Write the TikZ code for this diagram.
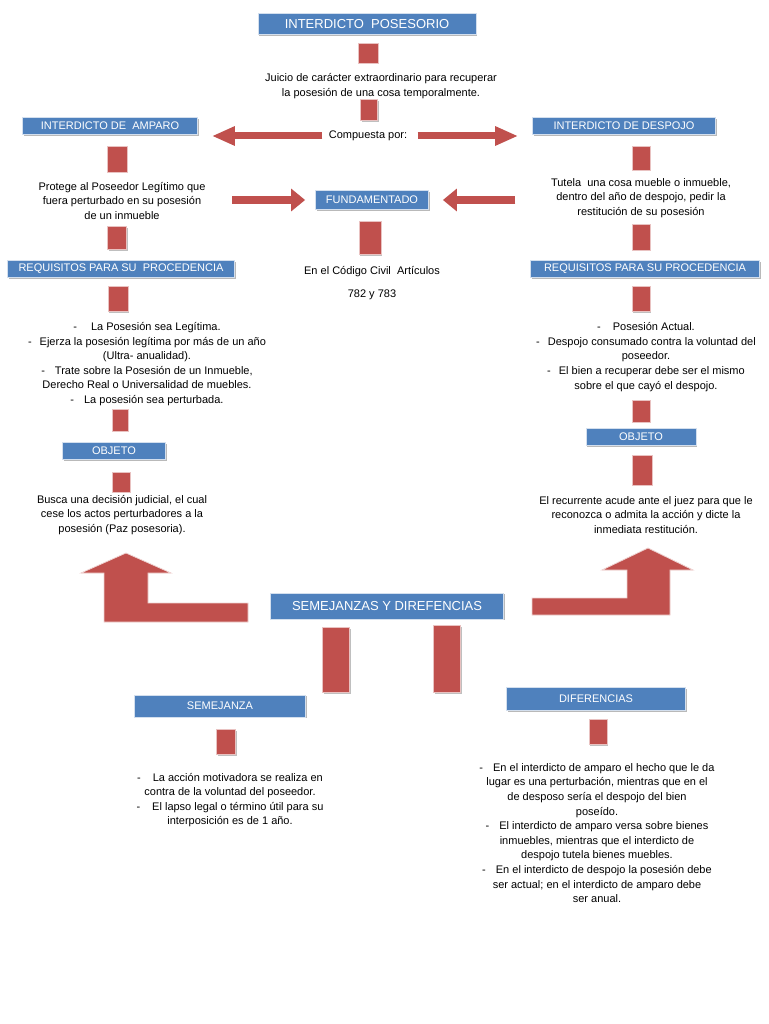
\documentclass[tikz,border=0pt]{standalone}
\usepackage{fontspec}
\setmainfont{Liberation Sans}
\usetikzlibrary{positioning}
\usetikzlibrary{arrows.meta}
\usetikzlibrary{shadows}

\definecolor{boxblue}{HTML}{4F81BD}
\definecolor{barred}{HTML}{C0504D}

\tikzset{x=1pt, y=-1pt,
  every node/.style={align=center,
    font=\fontsize{11}{14.6}\selectfont},
  title/.style={ % blue heading boxes
    rectangle, fill=boxblue, draw=white!75!boxblue, line width=0.8pt,
    text=white, inner sep=0pt, minimum height=17pt,
    font=\fontsize{11}{12}\selectfont,
    drop shadow={shadow xshift=1.4pt, shadow yshift=-1.4pt, opacity=0.55}},
  bigtitle/.style={title, font=\fontsize{13}{15}\selectfont},
  bar/.style={ % red blocks between the steps
    rectangle, fill=barred, draw=barred!35!white, line width=0.8pt,
    inner sep=0pt,
    drop shadow={shadow xshift=1.4pt, shadow yshift=-1.4pt, opacity=0.5}},
  flat/.style={ % red block arrows
    draw=barred, line width=7pt,
    -{Triangle[length=23pt,width=18pt]}},
  thick flat/.style={flat, line width=8pt,
    -{Triangle[length=14pt,width=22pt]}},
  bent/.style={fill=barred, draw=barred!25!white, line width=0.8pt}
}

\begin{document}
\begin{tikzpicture}
  \fill[white] (0,0) rectangle (768,1024);
  \useasboundingbox (0,0) rectangle (768,1024);

  % top
  \node[bigtitle, minimum width=218pt, minimum height=21pt] (posesorio) at (367,24) {INTERDICTO\ \ POSESORIO};
  \node[bar, minimum width=20pt, minimum height=20pt] (b1) at (368,53) {};
  \node (juicio) at (381,86) {Juicio de carácter extraordinario para recuperar\\
    la posesión de una cosa temporalmente.};
  \node[bar, minimum width=17pt, minimum height=21pt] (b2) at (369,110) {};
  \node (compuesta) at (368,136) {Compuesta por:};

  \node[title, minimum width=175pt] (amparo) at (110,126) {INTERDICTO DE\ \ AMPARO};
  \node[title, minimum width=183pt] (despojo) at (624,126) {INTERDICTO DE DESPOJO};

  \draw[flat, shorten <=3pt, shorten >=14pt] (compuesta) -- (compuesta -| amparo.east);
  \draw[flat, shorten <=7pt, shorten >=14pt] (compuesta) -- (compuesta -| despojo.west);

  % amparo side
  \node[bar, minimum width=20pt, minimum height=26pt] (b3) at (117,159) {};
  \node (amparotxt) at (122,201) {Protege al Poseedor Legítimo que\\
    fuera perturbado en su posesión\\
    de un inmueble};
  \node[bar, minimum width=19pt, minimum height=23pt] (b5) at (117,238) {};
  \node[title, minimum width=227pt] (reql) at (121,269) {REQUISITOS PARA SU\ \ PROCEDENCIA};
  \node[bar, minimum width=20pt, minimum height=25pt] (b8) at (118,299) {};
  \node (listl) at (147,364) {-\hspace{14pt}La Posesión sea Legítima.\\
    -\hspace{8pt}Ejerza la posesión legítima por más de un año\\
    (Ultra- anualidad).\\
    -\hspace{10pt}Trate sobre la Posesión de un Inmueble,\\
    Derecho Real o Universalidad de muebles.\\
    -\hspace{10pt}La posesión sea perturbada.};
  \node[bar, minimum width=16pt, minimum height=22pt] (b10) at (120,420) {};
  \node[title, minimum width=103pt] (objl) at (114,451) {OBJETO};
  \node[bar, minimum width=18pt, minimum height=20pt] (b12) at (121,482) {};
  \node (objltxt) at (122,515) {Busca una decisión judicial, el cual\\
    cese los actos perturbadores a la\\
    posesión (Paz posesoria).};

  % despojo side
  \node[bar, minimum width=18pt, minimum height=24pt] (b4) at (641,158) {};
  \node (despojotxt) at (641,198) {Tutela\ \ una cosa mueble o inmueble,\\
    dentro del año de despojo, pedir la\\
    restitución de su posesión};
  \node[bar, minimum width=18pt, minimum height=26pt] (b6) at (641,237) {};
  \node[title, minimum width=229pt] (reqr) at (645,269) {REQUISITOS PARA SU PROCEDENCIA};
  \node[bar, minimum width=18pt, minimum height=25pt] (b9) at (641,299) {};
  \node (listr) at (646,357) {-\hspace{12pt}Posesión Actual.\\
    -\hspace{8pt}Despojo consumado contra la voluntad del\\
    poseedor.\\
    -\hspace{8pt}El bien a recuperar debe ser el mismo\\
    sobre el que cayó el despojo.};
  \node[bar, minimum width=18pt, minimum height=22pt] (b11) at (641,411) {};
  \node[title, minimum width=110pt] (objr) at (641,437) {OBJETO};
  \node[bar, minimum width=20pt, minimum height=30pt] (b13) at (642,470) {};
  \node (objrtxt) at (646,515) {El recurrente acude ante el juez para que le\\
    reconozca o admita la acción y dicte la\\
    inmediata restitución.};

  % middle
  \node[title, minimum width=113pt, minimum height=19pt] (fund) at (372,200) {FUNDAMENTADO};
  \draw[thick flat, shorten <=23pt, shorten >=10pt] (amparotxt.east |- fund) -- (fund);
  \draw[thick flat, shorten <=32pt, shorten >=14pt] (despojotxt.west |- fund) -- (fund);
  \node[bar, minimum width=22pt, minimum height=33pt] (b7) at (370,238) {};
  \node (codigo) at (372,283) {En el Código Civil\ \ Artículos\\[9pt] 782 y 783};

  % bottom
  \node[bigtitle, minimum width=233pt, minimum height=26pt] (semdif) at (387,606) {SEMEJANZAS Y DIREFENCIAS};
  \node[bar, minimum width=27pt, minimum height=65pt] (b14) at (336,660) {};
  \node[bar, minimum width=27pt, minimum height=67pt] (b15) at (447,659) {};

  \fill[bent] (104,622) -- (248,622) -- (248,603) -- (148,603) -- (148,573)
    -- (171,573) -- (126,553) -- (81,573) -- (104,573) -- cycle;
  \fill[bent] (532,615) -- (670,615) -- (670,570) -- (693,570) -- (648,548)
    -- (602,570) -- (627,570) -- (627,598) -- (532,598) -- cycle;

  \node[title, minimum width=171pt, minimum height=22pt] (sem) at (220,706) {SEMEJANZA};
  \node[bar, minimum width=19pt, minimum height=25pt] (b16) at (226,742) {};
  \node (semtxt) at (230,800) {-\hspace{12pt}La acción motivadora se realiza en\\
    contra de la voluntad del poseedor.\\
    -\hspace{12pt}El lapso legal o término útil para su\\
    interposición es de 1 año.};

  \node[title, minimum width=179pt, minimum height=23pt] (dif) at (596,699) {DIFERENCIAS};
  \node[bar, minimum width=18pt, minimum height=25pt] (b17) at (598,732) {};
  \node (diftxt) at (597,833) {-\hspace{10pt}En el interdicto de amparo el hecho que le da\\
    lugar es una perturbación, mientras que en el\\
    de desposo sería el despojo del bien\\
    poseído.\\
    -\hspace{10pt}El interdicto de amparo versa sobre bienes\\
    inmuebles, mientras que el interdicto de\\
    despojo tutela bienes muebles.\\
    -\hspace{10pt}En el interdicto de despojo la posesión debe\\
    ser actual; en el interdicto de amparo debe\\
    ser anual.};
\end{tikzpicture}
\end{document}
